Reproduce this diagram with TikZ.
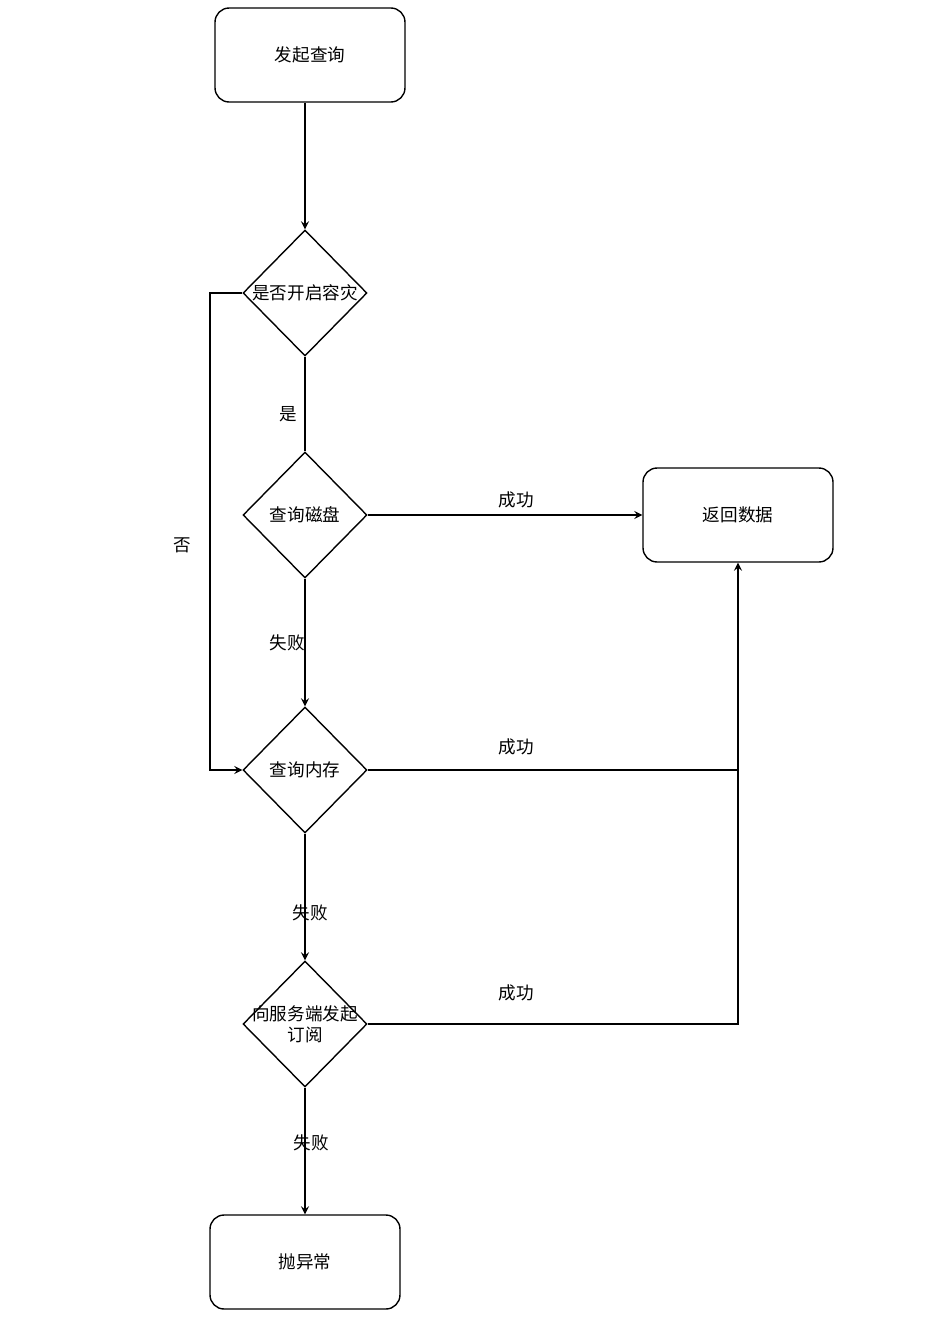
\documentclass[tikz,border=0pt]{standalone}
\usepackage{fontspec}
\setmainfont{Noto Sans CJK SC}
\usetikzlibrary{shapes.geometric}
\begin{document}
\begin{tikzpicture}[x=0.02cm, y=-0.02cm, font=\fontsize{10pt}{12pt}\selectfont,
    box/.style={draw, thick, rounded corners=8pt, minimum width=3.8cm, minimum height=1.88cm},
    choice/.style={draw, thick, diamond, inner sep=0pt, minimum width=2.48cm, minimum height=2.52cm},
    flow/.style={-stealth, line width=1pt}]
    \useasboundingbox (0, 0) rectangle (924, 1322);

    \node[box] (start) at (310, 55) {发起查询};
    \node[choice] (dr) at (305, 293) {};
    \node (drt) at (305, 293) {是否开启容灾};
    \node[choice] (disk) at (305, 515) {查询磁盘};
    \node[choice] (mem) at (305, 770) {查询内存};
    \node[choice] (sub) at (305, 1024) {};
    \node[align=center] (subt) at (305, 1024) {向服务端发起\\订阅};
    \node[box] (ret) at (738, 515) {返回数据};
    \node[box] (err) at (305, 1262) {抛异常};

    \coordinate (memj) at (738, 770);
    \coordinate (subj) at (738, 1024);
    \coordinate (nol) at (210, 293);
    \coordinate (nob) at (210, 770);

    \draw[flow] (dr.north |- start.south) -- (dr.north);
    \draw[line width=1pt] (dr) -- (disk);
    \draw[flow] (disk) -- (mem);
    \draw[flow] (mem) -- (sub);
    \draw[flow] (sub) -- (err);
    \draw[flow] (disk) -- (ret);
    \draw[line width=1pt] (mem) -- (memj);
    \draw[flow] (sub) -- (subj) -- (ret);
    \draw[flow] (dr.west) -- (nol) -- (nob) -- (mem.west);

    \node (l1) at (288, 414) {是};
    \node (l2) at (182, 545) {否};
    \node (l3) at (516, 500) {成功};
    \node (l4) at (287, 643) {失败};
    \node (l5) at (516, 747) {成功};
    \node (l6) at (310, 913) {失败};
    \node (l7) at (516, 993) {成功};
    \node (l8) at (311, 1143) {失败};
\end{tikzpicture}
\end{document}
